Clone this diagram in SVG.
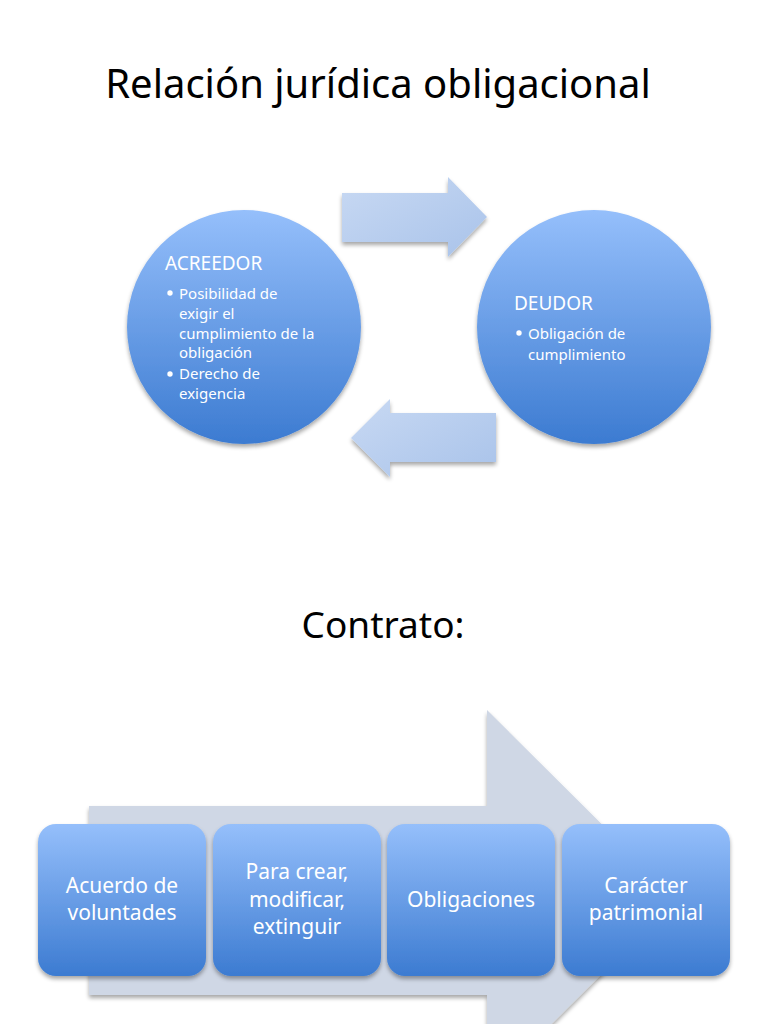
<svg xmlns="http://www.w3.org/2000/svg" width="768" height="1024" viewBox="0 0 768 1024">
<defs>
<linearGradient id="gBlue" x1="0" y1="0" x2="0" y2="1">
<stop offset="0" stop-color="#95bffb"/>
<stop offset="1" stop-color="#3c7bd1"/>
</linearGradient>
<linearGradient id="gArrow" x1="0" y1="0" x2="1" y2="1">
<stop offset="0" stop-color="#c8d9f3"/>
<stop offset="1" stop-color="#a9c3ea"/>
</linearGradient>
<filter id="sh" x="-10%" y="-10%" width="120%" height="130%">
<feGaussianBlur in="SourceAlpha" stdDeviation="2"/>
<feOffset dx="0" dy="3" result="b"/>
<feComponentTransfer><feFuncA type="linear" slope="0.35"/></feComponentTransfer>
<feMerge><feMergeNode/><feMergeNode in="SourceGraphic"/></feMerge>
</filter>
</defs>
<style>
text{font-family:"Noto Sans","Open Sans","DejaVu Sans",sans-serif;}
.title{font-size:40px;fill:#000;text-anchor:middle;}
.sub{font-size:37px;fill:#000;text-anchor:middle;}
.head{font-size:19px;fill:#fff;}
.bul{font-size:15px;fill:#fff;}
.box{font-size:21px;fill:#fff;text-anchor:middle;}
.node{fill:url(#gBlue);}
.arr{fill:url(#gArrow);}
</style>
<rect width="768" height="1024" fill="#fff"/>
<text class="title" x="378" y="98">Relación jurídica obligacional</text>

<g id="connectors">
<polygon class="arr" filter="url(#sh)" points="342,193 448,193 448,177 487,217 448,257 448,242 342,242"/>
<polygon class="arr" filter="url(#sh)" points="496,413 390,413 390,399 351,438 390,477 390,462 496,462"/>
</g>

<g id="acreedor">
<circle class="node" cx="244" cy="327" r="117" filter="url(#sh)"/>
<text class="head" x="165" y="270">ACREEDOR</text>
<circle cx="170" cy="293" r="2.7" fill="#fff"/>
<circle cx="170" cy="374" r="2.7" fill="#fff"/>
<text class="bul" x="179" y="299">Posibilidad de</text>
<text class="bul" x="179" y="319">exigir el</text>
<text class="bul" x="179" y="339">cumplimiento de la</text>
<text class="bul" x="179" y="358">obligación</text>
<text class="bul" x="179" y="379">Derecho de</text>
<text class="bul" x="179" y="399">exigencia</text>
</g>

<g id="deudor">
<circle class="node" cx="594" cy="327" r="117" filter="url(#sh)"/>
<text class="head" x="514" y="310">DEUDOR</text>
<circle cx="519" cy="333" r="2.7" fill="#fff"/>
<text class="bul" x="528" y="339">Obligación de</text>
<text class="bul" x="528" y="360">cumplimiento</text>
</g>

<text class="sub" x="383" y="638">Contrato:</text>

<g id="bigarrow">
<polygon fill="#cfd7e5" filter="url(#sh)" points="89,806 487,806 487,710 677,899 487,1088 487,995 89,995"/>
</g>

<g id="box1">
<rect class="node" x="38" y="824" width="168" height="152" rx="18" filter="url(#sh)"/>
<text class="box" x="122" y="893">Acuerdo de</text>
<text class="box" x="122" y="920">voluntades</text>
</g>
<g id="box2">
<rect class="node" x="213" y="824" width="168" height="152" rx="18" filter="url(#sh)"/>
<text class="box" x="297" y="879">Para crear,</text>
<text class="box" x="297" y="907">modificar,</text>
<text class="box" x="297" y="934">extinguir</text>
</g>
<g id="box3">
<rect class="node" x="387" y="824" width="168" height="152" rx="18" filter="url(#sh)"/>
<text class="box" x="471" y="907">Obligaciones</text>
</g>
<g id="box4">
<rect class="node" x="562" y="824" width="168" height="152" rx="18" filter="url(#sh)"/>
<text class="box" x="646" y="893">Carácter</text>
<text class="box" x="646" y="920">patrimonial</text>
</g>
</svg>
